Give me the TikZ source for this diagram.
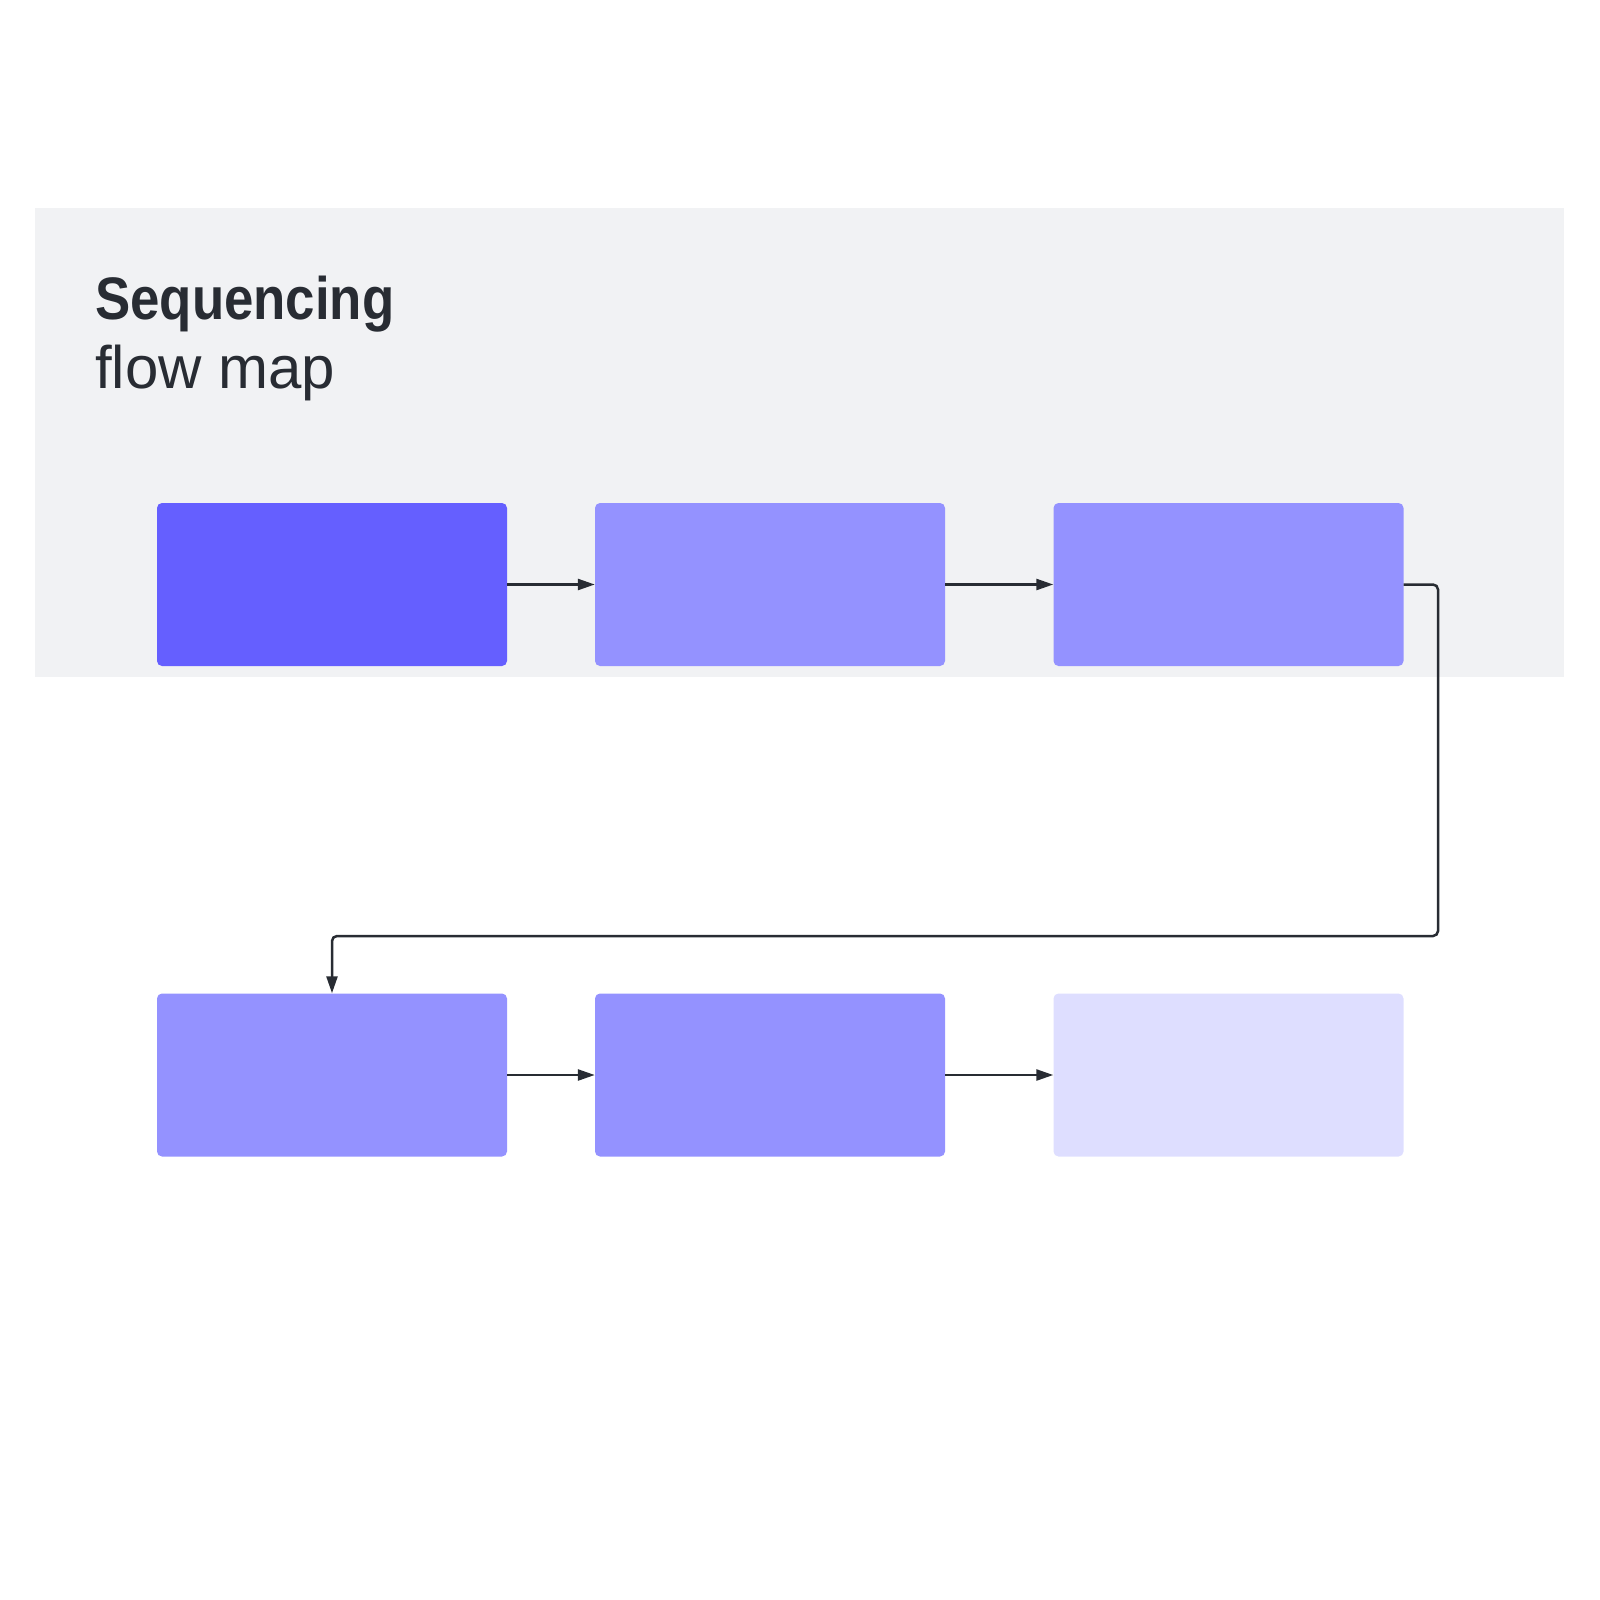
\documentclass[tikz,border=0pt]{standalone}
\usepackage{fontspec}
\setmainfont{Liberation Sans}[BoldFeatures={FakeStretch=0.88}]
\usetikzlibrary{arrows.meta, positioning}
\definecolor{ink}{RGB}{40,44,51}
\definecolor{panel}{RGB}{241,242,244}
\definecolor{stepdark}{RGB}{101,95,255}
\definecolor{stepmid}{RGB}{148,146,255}
\definecolor{steplight}{RGB}{222,222,255}

\begin{document}
\begin{tikzpicture}[x=1pt, y=-1pt, every node/.style={font=\fontsize{60}{69}\selectfont, text=ink}]
\tikzstyle{stepbox} = [rectangle, rounded corners=5pt, minimum width=350pt, minimum height=163pt, inner sep=0pt]
\tikzstyle{heading} = [anchor=base west, inner sep=0pt]
\tikzstyle{flow} = [-{Triangle[length=17pt, width=11pt]}, draw=ink, line width=2.5pt]

\useasboundingbox (0,0) rectangle (1600,1600);
\fill[panel] (35,208) rectangle (1564,677);

\node[heading] (title) at (95,319) {\bfseries Sequencing};
\node[heading] (subtitle) at (95,388) {flow map};

\node[stepbox, fill=stepdark] (s1) at (332,584.5) {};
\node[stepbox, fill=stepmid] (s2) at (770,584.5) {};
\node[stepbox, fill=stepmid] (s3) at (1228.5,584.5) {};
\node[stepbox, fill=stepmid] (s4) at (332,1075) {};
\node[stepbox, fill=stepmid] (s5) at (770,1075) {};
\node[stepbox, fill=steplight] (s6) at (1228.5,1075) {};

\coordinate (bend) at (1438,936);

\draw[flow] (s1) -- (s2);
\draw[flow] (s2) -- (s3);
\draw[flow, rounded corners=5pt] (s3.east) -| (bend) -| (s4.north);
\draw[flow] (s4) -- (s5);
\draw[flow] (s5) -- (s6);

\end{tikzpicture}
\end{document}
